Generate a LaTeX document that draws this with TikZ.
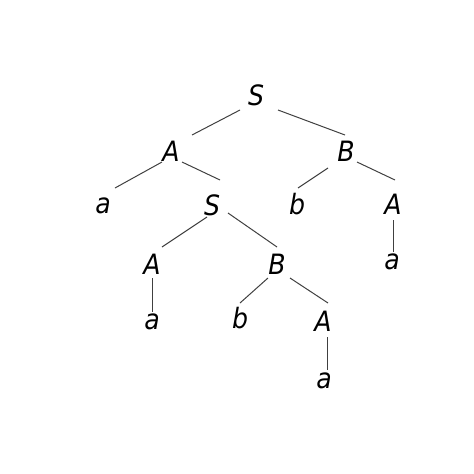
\documentclass[tikz,border=0pt]{standalone}
\usepackage{fontspec}
\setmainfont{DejaVu Sans Condensed}
\begin{document}
\begin{tikzpicture}[x=1pt,y=-1pt,
  sym/.style={inner sep=0pt,font=\fontsize{28}{32}\selectfont\itshape},
  edge/.style={draw=black!75,line width=1pt}]
\useasboundingbox (0,0) rectangle (474,474);
\node[sym] (S1) at (256,95) {S};
\node[sym] (A1) at (171,151) {A};
\node[sym] (B1) at (346,151) {B};
\node[sym] (a1) at (103,206) {a};
\node[sym] (S2) at (212,205) {S};
\node[sym] (b1) at (297,204) {b};
\node[sym] (A2) at (393,204) {A};
\node[sym] (A3) at (152,264) {A};
\node[sym] (B2) at (277,264) {B};
\node[sym] (a2) at (392,262) {a};
\node[sym] (a3) at (152,322) {a};
\node[sym] (b2) at (240,318) {b};
\node[sym] (A4) at (323,321) {A};
\node[sym] (a4) at (324,381) {a};
\draw[edge] ([shift={(-16,15)}]S1.center) -- ([shift={(21,-16)}]A1.center);
\draw[edge] ([shift={(22,15)}]S1.center) -- ([shift={(-1,-16)}]B1.center);
\draw[edge] ([shift={(-9,11)}]A1.center) -- ([shift={(12,-18)}]a1.center);
\draw[edge] ([shift={(11,11)}]A1.center) -- ([shift={(8,-25)}]S2.center);
\draw[edge] ([shift={(-18,17)}]B1.center) -- ([shift={(1,-16)}]b1.center);
\draw[edge] ([shift={(11,11)}]B1.center) -- ([shift={(2,-24)}]A2.center);
\draw[edge] ([shift={(-5,12)}]S2.center) -- ([shift={(10,-17)}]A3.center);
\draw[edge] ([shift={(16,8)}]S2.center) -- ([shift={(0,-17)}]B2.center);
\draw[edge] ([shift={(0,16)}]A2.center) -- ([shift={(1,-10)}]a2.center);
\draw[edge] ([shift={(0,14)}]A3.center) -- ([shift={(0,-10)}]a3.center);
\draw[edge] ([shift={(-9,14)}]B2.center) -- ([shift={(0,-15)}]b2.center);
\draw[edge] ([shift={(13,14)}]B2.center) -- ([shift={(5,-18)}]A4.center);
\draw[edge] ([shift={(4,16)}]A4.center) -- ([shift={(3,-11)}]a4.center);
\end{tikzpicture}
\end{document}
